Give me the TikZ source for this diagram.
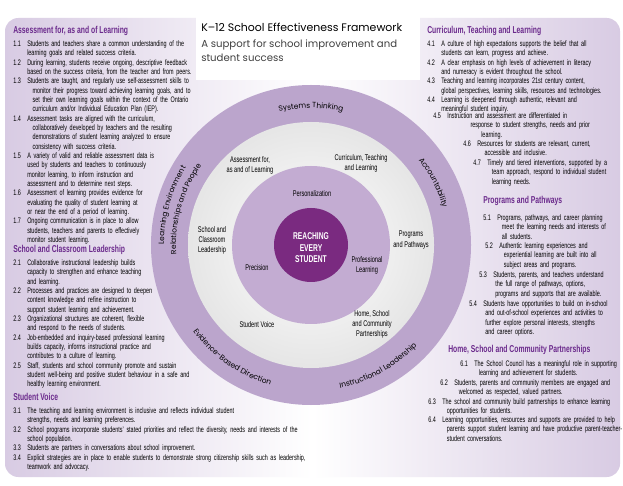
\documentclass[tikz,border=0pt]{standalone}
\usepackage{fontspec}
\setmainfont{Liberation Sans}[FakeStretch=0.68]
\newfontfamily\titlefont{Poppins}
\usetikzlibrary{decorations.text,calc}
\definecolor{lav}{HTML}{D8CBE3}
\definecolor{ringout}{HTML}{BBA5CC}
\definecolor{ringmid}{HTML}{C3ACD2}
\definecolor{core}{HTML}{7A2A80}
\definecolor{head}{HTML}{6B2A8C}
\newcommand\itm[3][10.5pt]{\par\hangindent=#1\hangafter=1\noindent\makebox[10.5pt][l]{#2}#3\par}
\newcommand\ringf{\titlefont\fontsize{5.6}{6}\selectfont}
\begin{document}
\begin{tikzpicture}[x=0.75pt,y=0.75pt,
  body/.style={anchor=north west,inner sep=0pt,text width=#1,font=\fontsize{6}{7}\selectfont},
  body/.default=150pt,
  hd/.style={anchor=north west,inner sep=0pt,font=\bfseries\fontsize{7.5}{8}\selectfont,text=head},
  lbl/.style={align=center,inner sep=0pt,font=\fontsize{6.2}{7.6}\selectfont},
  ringtxt/.style={decorate,decoration={text along path,text align=center,text={#1}}}]
\useasboundingbox (0,0) rectangle (623,485);
\fill[white] (0,0) rectangle (623,485);
\shade[left color=lav,right color=lav,middle color=white,rounded corners=10] (5,8) rectangle (620,467);
\fill[white] (196,405) rectangle (420,470);
% title
\node[anchor=north west,inner sep=0pt,font=\titlefont\fontsize{8.2}{9}\selectfont] (title) at (201,462) {K–12 School Effectiveness Framework};
\node[anchor=north west,inner sep=0pt,align=left,font=\titlefont\fontsize{7.6}{10.5}\selectfont,text=black!75] (sub) at (201,446) {A support for school improvement and\\student success};
% circles
\coordinate (c) at (311,240);
\fill[ringout] (c) circle (160);
\shade[inner color=white,outer color=black!10] (c) circle (123);
\fill[ringmid] (c) circle (79);
\fill[core] (c) circle (37);
\node[lbl,text=white,font=\bfseries\fontsize{7.4}{8.6}\selectfont] (reach) at (311,237) {REACHING\\EVERY\\STUDENT};
% ring texts
\path[ringtxt={|\ringf|Systems Thinking}] ($(c)+(118:137)$) arc (118:62:137);
\path[ringtxt={|\ringf|Accountability}] ($(c)+(56:137)$) arc (56:-2:137);
\path[ringtxt={|\ringf|Learning Environment}] ($(c)+(202:147)$) arc (202:126:147);
\path[ringtxt={|\ringf|Relationships and People}] ($(c)+(204:135)$) arc (204:124:135);
\path[ringtxt={|\ringf|Evidence-Based Direction}] ($(c)+(200:146)$) arc (200:270:146);
\path[ringtxt={|\ringf|Instructional Leadership}] ($(c)+(-96:146)$) arc (-96:-26:146);
% inner labels
\node[lbl] (a1) at (250,320) {Assessment for,\\as and of Learning};
\node[lbl] (a4) at (361,322) {Curriculum, Teaching\\and Learning};
\node[lbl] (pers) at (312,291) {Personalization};
\node[lbl] (a2) at (212,245) {School and\\Classroom\\Leadership};
\node[lbl] (a5) at (411,245) {Programs\\and Pathways};
\node[lbl] (prec) at (257,217) {Precision};
\node[lbl] (prof) at (367,220) {Professional\\Learning};
\node[lbl] (a3) at (257,160) {Student Voice};
\node[lbl] (a6) at (372,161) {Home, School\\and Community\\Partnerships};
% left panel
\node[hd] (h1) at (13,459) {Assessment for, as and of Learning};
\node[body] (t1) at (13,448) {%
\itm{1.1}{Students and teachers share a common understanding of the\newline learning goals and related success criteria.}
\itm{1.2}{During learning, students receive ongoing, descriptive feedback\newline based on the success criteria, from the teacher and from peers.}
\itm{1.3}{Students are taught, and regularly use self-assessment skills to\newline \hspace*{4pt}monitor their progress toward achieving learning goals, and to\newline \hspace*{4pt}set their own learning goals within the context of the Ontario\newline \hspace*{4pt}curriculum and/or Individual Education Plan (IEP).}
\itm{1.4}{Assessment tasks are aligned with the curriculum,\newline \hspace*{4pt}collaboratively developed by teachers and the resulting\newline \hspace*{4pt}demonstrations of student learning analyzed to ensure\newline \hspace*{4pt}consistency with success criteria.}
\itm{1.5}{A variety of valid and reliable assessment data is\newline used by students and teachers to continuously\newline monitor learning, to inform instruction and\newline assessment and to determine next steps.}
\itm{1.6}{Assessment of learning provides evidence for\newline evaluating the quality of student learning at\newline or near the end of a period of learning.}
\itm{1.7}{Ongoing communication is in place to allow\newline students, teachers and parents to effectively\newline monitor student learning.}};
\node[hd] (h2) at (13,240) {School and Classroom Leadership};
\node[body] (t2) at (13,229) {%
\itm{2.1}{Collaborative instructional leadership builds\newline capacity to strengthen and enhance teaching\newline and learning.}
\itm{2.2}{Processes and practices are designed to deepen\newline content knowledge and refine instruction to\newline support student learning and achievement.}
\itm{2.3}{Organizational structures are coherent, flexible\newline and respond to the needs of students.}
\itm{2.4}{Job-embedded and inquiry-based professional learning\newline builds capacity, informs instructional practice and\newline contributes to a culture of learning.}
\itm{2.5}{Staff, students and school community promote and sustain\newline student well-being and positive student behaviour in a safe and\newline healthy learning environment.}};
\node[hd] (h3) at (13,92) {Student Voice};
\node[body=240pt] (t3) at (13,81) {%
\itm{3.1}{The teaching and learning environment is inclusive and reflects individual student\newline strengths, needs and learning preferences.}
\itm{3.2}{School programs incorporate students' stated priorities and reflect the diversity, needs and interests of the\newline school population.}
\itm{3.3}{Students are partners in conversations about school improvement.}
\itm{3.4}{Explicit strategies are in place to enable students to demonstrate strong citizenship skills such as leadership,\newline teamwork and advocacy.}};
% right panel
\node[hd] (h4) at (427,459) {Curriculum, Teaching and Learning};
\node[body] (t41) at (427,448) {%
\itm{4.1}{A culture of high expectations supports the belief that all\newline students can learn, progress and achieve.}
\itm{4.2}{A clear emphasis on high levels of achievement in literacy\newline and numeracy is evident throughout the school.}
\itm{4.3}{Teaching and learning incorporates 21st century content,\newline global perspectives, learning skills, resources and technologies.}
\itm{4.4}{Learning is deepened through authentic, relevant and\newline meaningful student inquiry.}};
\node[body] (t45) at (433,376) {\itm[28pt]{4.5}{Instruction and assessment are differentiated in\newline response to student strengths, needs and prior\newline \hspace*{8pt}learning.}};
\node[body] (t46) at (463,348) {\itm[16pt]{4.6}{Resources for students are relevant, current,\newline accessible and inclusive.}};
\node[body] (t47) at (473,329) {\itm[14pt]{4.7}{Timely and tiered interventions, supported by a\newline team approach, respond to individual student\newline learning needs.}};
\node[hd] (h5) at (483,289) {Programs and Pathways};
\node[body] (t51) at (483,274) {\itm[14pt]{5.1}{Programs, pathways, and career planning\newline meet the learning needs and interests of\newline all students.}};
\node[body] (t52) at (485,246) {\itm[14pt]{5.2}{Authentic learning experiences and\newline experiential learning are built into all\newline subject areas and programs.}};
\node[body] (t53) at (479,217) {\itm[12pt]{5.3}{Students, parents, and teachers understand\newline the full range of pathways, options,\newline programs and supports that are available.}};
\node[body] (t54) at (469,188) {\itm[12pt]{5.4}{Students have opportunities to build on in-school\newline and out-of-school experiences and activities to\newline further explore personal interests, strengths\newline and career options.}};
\node[hd] (h6) at (448,140) {Home, School and Community Partnerships};
\node[body] (t61) at (460,128) {\itm[14pt]{6.1}{The School Council has a meaningful role in supporting\newline learning and achievement for students.}};
\node[body] (t62) at (440,109) {\itm[14pt]{6.2}{Students, parents and community members are engaged and\newline welcomed as respected, valued partners.}};
\node[body] (t63) at (428,90) {\itm[14pt]{6.3}{The school and community build partnerships to enhance learning\newline opportunities for students.}};
\node[body] (t64) at (428,72) {\itm[14pt]{6.4}{Learning opportunities, resources and supports are provided to help\newline parents support student learning and have productive parent-teacher-\newline student conversations.}};
\end{tikzpicture}
\end{document}
